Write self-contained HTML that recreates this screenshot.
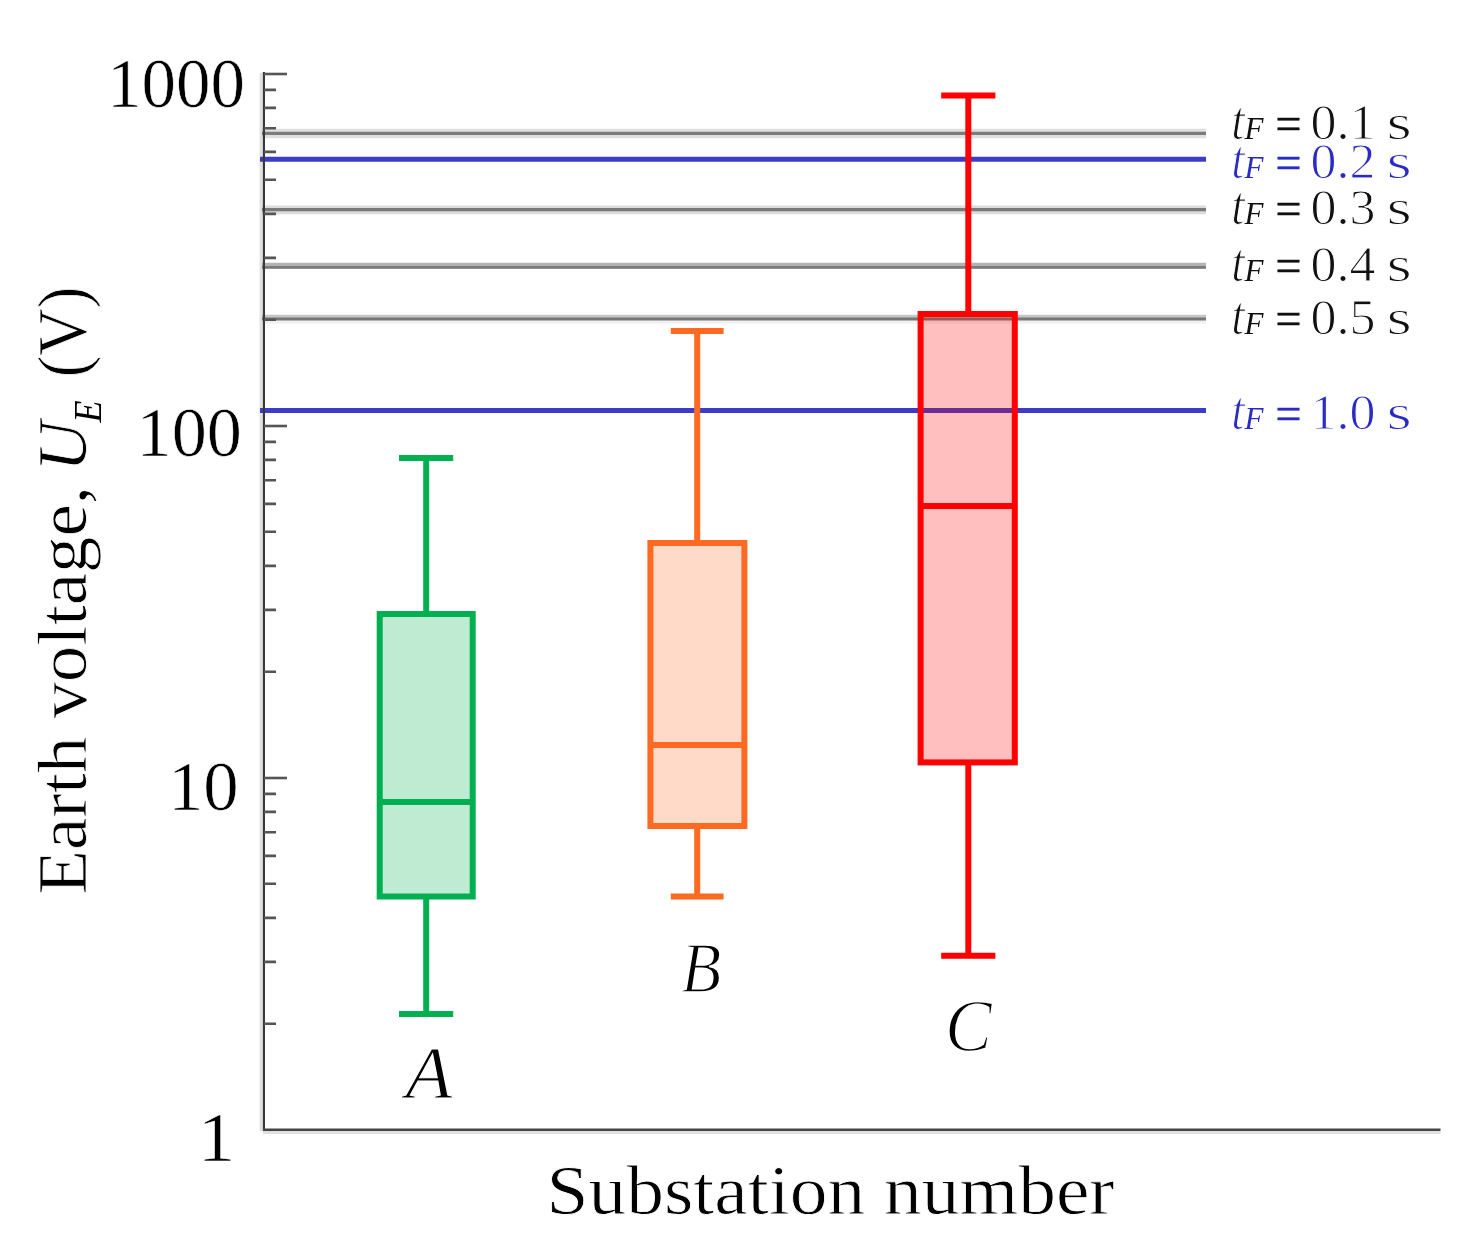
<!DOCTYPE html>
<html>
<head>
<meta charset="utf-8">
<style>
html,body{margin:0;padding:0;background:#fff;}
body{width:1484px;height:1256px;overflow:hidden;}
svg{display:block;}
.serif{font-family:"Liberation Serif","DejaVu Serif",serif;}
</style>
</head>
<body>
<svg width="1484" height="1256" viewBox="0 0 1484 1256">
<rect x="0" y="0" width="1484" height="1256" fill="#fff"/>
<g fill="none">
  <line x1="261" y1="73" x2="261" y2="1131" stroke="#e0e0e0" stroke-width="2.8"/>
  <line x1="263" y1="1132.6" x2="1440.5" y2="1132.6" stroke="#dfdfdf" stroke-width="3"/>
</g>

<!-- reference threshold lines -->
<g fill="none">
  <line x1="262" y1="133.45" x2="1206" y2="133.45" stroke="#e0e0e0" stroke-width="9.5"/>
  <line x1="262" y1="133.3" x2="1206" y2="133.3" stroke="#7c7c7c" stroke-width="3.2"/>
  <line x1="262" y1="209.8" x2="1206" y2="209.8" stroke="#dcdcdc" stroke-width="8.8"/>
  <line x1="262" y1="209.55" x2="1206" y2="209.55" stroke="#7a7a7a" stroke-width="3.3"/>
  <line x1="262" y1="265.65" x2="1206" y2="265.65" stroke="#b3b3b3" stroke-width="5.9"/>
  <line x1="262" y1="267.35" x2="1206" y2="267.35" stroke="#7b7b7b" stroke-width="2.9"/>
  <line x1="262" y1="316.35" x2="1206" y2="316.35" stroke="#c5c5c5" stroke-width="3.3"/>
  <line x1="262" y1="321.8" x2="1206" y2="321.8" stroke="#f0f0f0" stroke-width="3.2"/>
  <line x1="262" y1="319" x2="1206" y2="319" stroke="#777" stroke-width="2.8"/>
</g>
<g stroke-width="5" fill="none" stroke="#3c3cc8">
  <line x1="260" y1="159.2" x2="1206" y2="159.2"/>
  <line x1="260" y1="410.4" x2="1206" y2="410.4"/>
</g>

<!-- axes -->
<g fill="none">
  <line x1="263.9" y1="72" x2="263.9" y2="1131" stroke="#383838" stroke-width="2.2"/>
  <line x1="263" y1="1129.8" x2="1440.5" y2="1129.8" stroke="#444" stroke-width="2.4"/>
</g>
<g stroke="#555" stroke-width="2.6" fill="none">
  <line x1="264" y1="74" x2="287" y2="74"/>
  <line x1="264" y1="426" x2="287" y2="426"/>
  <line x1="264" y1="778" x2="287" y2="778"/>
  <path d="M264 1023.8H276M264 961.9H276M264 917.9H276M264 883.8H276M264 855.9H276M264 832.3H276M264 811.9H276M264 793.9H276M264 671.8H276M264 609.9H276M264 565.9H276M264 531.8H276M264 503.9H276M264 480.3H276M264 459.9H276M264 441.9H276M264 319.8H276M264 257.9H276M264 213.9H276M264 179.8H276M264 151.9H276M264 128.3H276M264 107.9H276M264 89.9H276"/>
</g>

<!-- Box A (green) -->
<g stroke="#00b050" stroke-width="6" fill="none">
  <line x1="426.2" y1="458" x2="426.2" y2="614"/>
  <line x1="426.2" y1="896.5" x2="426.2" y2="1014"/>
  <line x1="399" y1="458" x2="453.2" y2="458"/>
  <line x1="399" y1="1014" x2="453.2" y2="1014"/>
  <rect x="379.7" y="614" width="93" height="282.5" fill="rgba(0,176,80,0.25)"/>
  <line x1="379.7" y1="802" x2="472.7" y2="802"/>
</g>

<!-- Box B (orange) -->
<g stroke="#ff6a22" stroke-width="6" fill="none">
  <line x1="697.2" y1="331" x2="697.2" y2="543"/>
  <line x1="697.2" y1="826" x2="697.2" y2="896.5"/>
  <line x1="670.8" y1="331" x2="723.6" y2="331"/>
  <line x1="670.8" y1="896.5" x2="723.6" y2="896.5"/>
  <rect x="650.4" y="543" width="94" height="283" fill="rgba(255,106,34,0.25)"/>
  <line x1="650.4" y1="745" x2="744.4" y2="745"/>
</g>

<!-- Box C (red) -->
<g stroke="#ff0000" stroke-width="6" fill="none">
  <line x1="968.3" y1="95.5" x2="968.3" y2="314"/>
  <line x1="968.3" y1="762.4" x2="968.3" y2="955.8"/>
  <line x1="941.2" y1="95.5" x2="995.4" y2="95.5"/>
  <line x1="941.2" y1="955.8" x2="995.4" y2="955.8"/>
  <rect x="920.6" y="314" width="94.2" height="448.4" fill="rgba(255,0,0,0.25)"/>
  <line x1="920.6" y1="506" x2="1014.8" y2="506"/>
</g>

<!-- tick labels -->
<g class="serif" font-size="69" fill="#000" text-anchor="end" stroke="#fff" stroke-width="0.6">
  <text x="245" y="106.5">1000</text>
  <text transform="translate(241.8,456) scale(1.017,1)">100</text>
  <text transform="translate(238.7,809.5) scale(1.025,1)">10</text>
  <text transform="translate(235.4,1160.5) scale(1.1,1)">1</text>
</g>

<!-- category labels -->
<g class="serif" font-size="71" font-style="italic" fill="#000" stroke="#fff" stroke-width="1.1">
  <text transform="translate(405.5,1098) scale(1.08,1.03)">A</text>
  <text transform="translate(681,991.5) scale(0.93,1.01)" stroke-width="1.5">B</text>
  <text transform="translate(945,1051) scale(0.99,1.03)" stroke-width="1.5">C</text>
</g>

<!-- axis titles -->
<text class="serif" transform="translate(546.6,1214) scale(1.078,1)" font-size="70" fill="#000" stroke="#fff" stroke-width="0.8">Substation number</text>
<g class="serif" font-size="70" fill="#000" stroke="#fff" stroke-width="0.8">
  <text transform="translate(86,894.6) rotate(-90) scale(1.041,1)">Earth voltage,</text>
  <text transform="translate(86,471.7) rotate(-90)" font-style="italic">U</text>
  <text transform="translate(100.5,422.6) rotate(-90) scale(0.9,1)" font-style="italic" font-size="40" stroke="none">E</text>
  <text transform="translate(86,377.6) rotate(-90) scale(0.938,1)">(V)</text>
</g>

<!-- threshold labels -->
<g class="serif" font-size="50" stroke="#fff" stroke-width="1">
  <g fill="#111" color="#111"><text transform="translate(1231.3,139.4) scale(0.96,1.1)" font-style="italic">t</text><text x="1244.5" y="139.4" font-style="italic" font-size="31" stroke="none">F</text><text x="1275.5" y="139.4" font-size="46" stroke="currentColor" stroke-width="0.5">=</text><text transform="translate(1310.4,139.4) scale(1.04,1)">0.1</text><text transform="translate(1386.4,139.4) scale(1.3,1)">s</text></g>
  <g fill="#2a2ac4" color="#2a2ac4"><text transform="translate(1231.3,177.6) scale(0.96,1.1)" font-style="italic">t</text><text x="1244.5" y="177.6" font-style="italic" font-size="31" stroke="none">F</text><text x="1275.5" y="177.6" font-size="46" stroke="currentColor" stroke-width="0.5">=</text><text transform="translate(1310.4,177.6) scale(1.04,1)">0.2</text><text transform="translate(1386.4,177.6) scale(1.3,1)">s</text></g>
  <g fill="#111" color="#111"><text transform="translate(1231.3,224) scale(0.96,1.1)" font-style="italic">t</text><text x="1244.5" y="224" font-style="italic" font-size="31" stroke="none">F</text><text x="1275.5" y="224" font-size="46" stroke="currentColor" stroke-width="0.5">=</text><text transform="translate(1310.4,224) scale(1.04,1)">0.3</text><text transform="translate(1386.4,224) scale(1.3,1)">s</text></g>
  <g fill="#111" color="#111"><text transform="translate(1231.3,281.3) scale(0.96,1.1)" font-style="italic">t</text><text x="1244.5" y="281.3" font-style="italic" font-size="31" stroke="none">F</text><text x="1275.5" y="281.3" font-size="46" stroke="currentColor" stroke-width="0.5">=</text><text transform="translate(1310.4,281.3) scale(1.04,1)">0.4</text><text transform="translate(1386.4,281.3) scale(1.3,1)">s</text></g>
  <g fill="#111" color="#111"><text transform="translate(1231.3,333.5) scale(0.96,1.1)" font-style="italic">t</text><text x="1244.5" y="333.5" font-style="italic" font-size="31" stroke="none">F</text><text x="1275.5" y="333.5" font-size="46" stroke="currentColor" stroke-width="0.5">=</text><text transform="translate(1310.4,333.5) scale(1.04,1)">0.5</text><text transform="translate(1386.4,333.5) scale(1.3,1)">s</text></g>
  <g fill="#2a2ac4" color="#2a2ac4"><text transform="translate(1231.3,428.5) scale(0.96,1.1)" font-style="italic">t</text><text x="1244.5" y="428.5" font-style="italic" font-size="31" stroke="none">F</text><text x="1275.5" y="428.5" font-size="46" stroke="currentColor" stroke-width="0.5">=</text><text transform="translate(1310.4,428.5) scale(1.04,1)">1.0</text><text transform="translate(1386.4,428.5) scale(1.3,1)">s</text></g>
</g>
</svg>
</body>
</html>
